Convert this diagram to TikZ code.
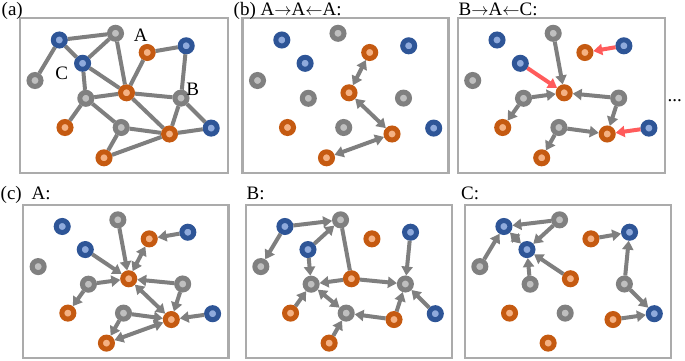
\documentclass[tikz,border=0pt]{standalone}
\usepackage{fontspec}
\setmainfont{Liberation Serif}
\usetikzlibrary{arrows.meta}
\definecolor{cblue}{HTML}{2E5597}
\definecolor{cbluel}{HTML}{8FAADC}
\definecolor{corange}{HTML}{C55A11}
\definecolor{corangel}{HTML}{F4B183}
\definecolor{cgray}{HTML}{808080}
\definecolor{cgrayl}{HTML}{BFBFBF}
\definecolor{cedge}{HTML}{7F7F7F}
\definecolor{cred}{HTML}{FF5B5B}
\definecolor{cbox}{HTML}{ABABAB}
\tikzset{
  nd/.style={circle, inner sep=0pt, minimum size=12pt, line width=5pt},
  bl/.style={nd, draw=cblue, fill=cbluel},
  og/.style={nd, draw=corange, fill=corangel},
  gy/.style={nd, draw=cgray, fill=cgrayl},
  ln/.style={draw=cedge, line width=4pt},
  ar/.style={ln, -{Triangle[length=9pt,width=11pt]}},
  rar/.style={ar, draw=cred},
  bar/.style={ln, {Triangle[length=9pt,width=11pt]}-{Triangle[length=9pt,width=11pt]}},
  panelbox/.style={draw=cbox, line width=2.2pt},
  lbl/.style={inner sep=0pt, font=\fontsize{19}{22}\selectfont}
}
% #1 prefix, #2 ox, #3 oy, #4 scale
\newcommand\mkpanel[4]{%
  \node[bl] (#1b1) at ({#2+#4*39.3},{#3+#4*21.7}) {};
  \node[gy] (#1g1) at ({#2+#4*95.5},{#3+#4*15}) {};
  \node[og] (#1oA) at ({#2+#4*127.2},{#3+#4*34.2}) {};
  \node[bl] (#1b2) at ({#2+#4*166.2},{#3+#4*27.5}) {};
  \node[bl] (#1bC) at ({#2+#4*62.6},{#3+#4*45}) {};
  \node[gy] (#1g2) at ({#2+#4*15},{#3+#4*62.2}) {};
  \node[og] (#1oM) at ({#2+#4*106.5},{#3+#4*74.5}) {};
  \node[gy] (#1gB) at ({#2+#4*161},{#3+#4*79.8}) {};
  \node[gy] (#1g3) at ({#2+#4*65.8},{#3+#4*80}) {};
  \node[og] (#1o2) at ({#2+#4*45},{#3+#4*109.2}) {};
  \node[gy] (#1g4) at ({#2+#4*101.2},{#3+#4*109.2}) {};
  \node[og] (#1o3) at ({#2+#4*149.5},{#3+#4*115.7}) {};
  \node[bl] (#1b3) at ({#2+#4*191.2},{#3+#4*109.8}) {};
  \node[og] (#1o4) at ({#2+#4*84},{#3+#4*139.5}) {};
}
\begin{document}
\begin{tikzpicture}[x=1pt,y=-1pt]
\useasboundingbox (0,0) rectangle (685,361);
% boxes
\draw[panelbox] (20,18.3) rectangle (228,173.3);
\draw[panelbox] (242.5,18.3) rectangle (448.5,173.3);
\draw[panelbox] (457.7,18.3) rectangle (665,173.3);
\draw[panelbox] (23.3,205) rectangle (228.5,358.3);
\draw[panelbox] (246,205) rectangle (451.7,358.3);
\draw[panelbox] (465,205) rectangle (671,358.3);
% nodes
\mkpanel{a}{20}{18.3}{1}
\mkpanel{b}{242.5}{18.3}{1}
\mkpanel{c}{457.7}{18.3}{1}
\mkpanel{d}{23.3}{205}{0.99}
\mkpanel{e}{246}{205}{0.99}
\mkpanel{f}{465}{205}{0.99}
% panel (a) undirected graph
\foreach \u/\v in {b1/g1, b1/g2, b1/bC, bC/g1, g1/oM, oA/oM, oA/b2, b2/gB,
  bC/oM, bC/g3, g3/oM, oM/gB, g3/o2, g3/g4, oM/o3, gB/o3, gB/b3, g4/o3,
  g4/o4, o4/o3, o3/b3}
  \draw[ln] (a\u) -- (a\v);
% panel (b)
\foreach \u/\v in {oA/oM, oM/o3, o3/o4}
  \draw[bar] (b\u) -- (b\v);
% panel B->A<-C
\foreach \u/\v in {g1/oM, g3/oM, g3/o2, gB/oM, gB/o3, g4/o3, g4/o4}
  \draw[ar] (c\u) -- (c\v);
\foreach \u/\v in {bC/oM, b2/oA, b3/o3}
  \draw[rar] (c\u) -- (c\v);
% panel A:
\foreach \u/\v in {g1/oM, bC/oM, b2/oA, g3/oM, g3/o2, gB/oM, gB/o3, b3/o3, g4/o3, g4/o4}
  \draw[ar] (d\u) -- (d\v);
\foreach \u/\v in {oM/oA, oM/o3, o3/o4}
  \draw[bar] (d\u) -- (d\v);
% panel B:
\foreach \u/\v in {b1/g1, b1/g2, bC/g1, bC/g3, oM/g3, oM/gB, b2/gB, b3/gB, o2/g3, o3/g4, o3/gB, o4/g4}
  \draw[ar] (e\u) -- (e\v);
\draw[ln] (eoM) -- (eg1);
\draw[bar] (eg3) -- (eg4);
% panel C:
\foreach \u/\v in {g1/b1, g2/b1, g1/bC, g3/bC, oM/bC, oA/b2, gB/b2, gB/b3, o3/b3}
  \draw[ar] (f\u) -- (f\v);
\draw[bar] (fb1) -- (fbC);
% labels
\node[lbl, anchor=base west] (la) at (1.5,15.5) {(a)};
\node[lbl, anchor=base west] (lb) at (233.5,15.5) {(b) A$\rightarrow$A$\leftarrow$A:};
\node[lbl, anchor=base west] (lc) at (458.5,15.5) {B$\rightarrow$A$\leftarrow$C:};
\node[lbl, anchor=base west] (ld) at (0.5,199.5) {(c)\hspace{5pt} A:};
\node[lbl, anchor=base west] (le) at (246.5,199.5) {B:};
\node[lbl, anchor=base west] (lf) at (461,199.5) {C:};
\node[lbl, anchor=base west] (ldots) at (667.5,101.5) {...};
\node[lbl, anchor=base] (nA) at (140.7,41.7) {A};
\node[lbl, anchor=base] (nC) at (61.7,79) {C};
\node[lbl, anchor=base] (nB) at (192.7,95) {B};
\end{tikzpicture}
\end{document}
